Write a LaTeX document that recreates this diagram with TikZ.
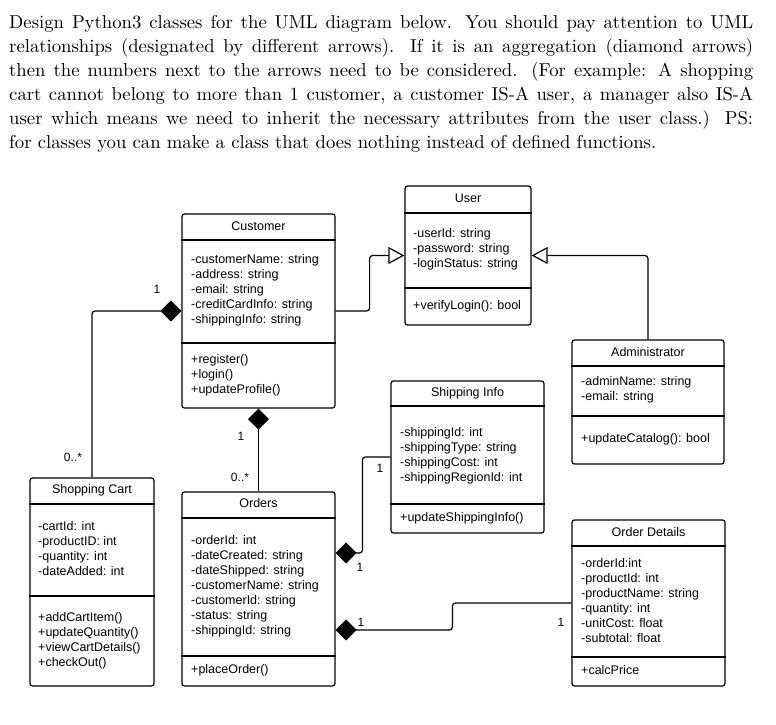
\documentclass[tikz,border=0pt]{standalone}
\usepackage{fontspec}
\newfontfamily\umlfont{Liberation Sans}
\newfontfamily\taskfont{lmroman10-regular.otf}
\usetikzlibrary{arrows.meta}

\tikzset{
    classbox/.style={draw, line width=1.2pt, rounded corners=2.5pt, inner sep=0pt},
    divider/.style={line width=1.2pt},
    classname/.style={font=\umlfont\fontsize{12.5}{15}\selectfont, inner sep=0pt, anchor=base},
    members/.style={font=\umlfont\fontsize{12.5}{15}\selectfont, align=left, anchor=base west, inner sep=0pt},
    mult/.style={font=\umlfont\fontsize{12}{14}\selectfont, inner sep=0pt},
    isa/.style={line width=1.2pt, rounded corners=3pt, -{Triangle[open, length=16pt, width=17pt, fill=white]}},
    haspart/.style={line width=1.2pt, rounded corners=3pt, -{Diamond[length=21pt, width=21pt]}}
}

\begin{document}
\begin{tikzpicture}[x=1pt, y=-1pt]
                \useasboundingbox (0, 0) rectangle (776, 725);

                \node[anchor=base west, text width=744pt, align=justify, inner sep=0pt, font=\taskfont\fontsize{18.7}{24}\selectfont] (task) at (9, 29) {\baselineskip=24pt Design Python3 classes for the UML diagram below. You should pay attention to UML\linebreak relationships (designated by different arrows). If it is an aggregation (diamond arrows)\linebreak then the numbers next to the arrows need to be considered. (For example: A shopping\linebreak cart cannot belong to more than 1 customer, a customer IS-A user, a manager also IS-A\linebreak user which means we need to inherit the necessary attributes from the user class.) PS:\linebreak for classes you can make a class that does nothing instead of defined functions.\par};

                \node[classbox, minimum width=126, minimum height=139] (user) at (468, 255.5) {};

                \draw[divider] (user.west |- 0, 213) -- (user.east |- 0, 213);

                \draw[divider] (user.west |- 0, 288) -- (user.east |- 0, 288);

                \node[classname] (user-name) at (468, 202.5) {User};

                \node[members] (user-attr) at (413, 267) {-userId: string\\-password: string\\-loginStatus: string};

                \node[members] (user-ops) at (413, 309) {+verifyLogin(): bool};

                \node[classbox, minimum width=153, minimum height=194] (customer) at (258.5, 311) {};

                \draw[divider] (customer.west |- 0, 240) -- (customer.east |- 0, 240);

                \draw[divider] (customer.west |- 0, 343) -- (customer.east |- 0, 343);

                \node[classname] (customer-name) at (258.5, 230.5) {Customer};

                \node[members] (customer-attr) at (191, 323) {-customerName: string\\-address: string\\-email: string\\-creditCardInfo: string\\-shippingInfo: string};

                \node[members] (customer-ops) at (191, 393) {+register()\\+login()\\+updateProfile()};

                \node[classbox, minimum width=152, minimum height=124] (admin) at (648, 402) {};

                \draw[divider] (admin.west |- 0, 366) -- (admin.east |- 0, 366);

                \draw[divider] (admin.west |- 0, 416) -- (admin.east |- 0, 416);

                \node[classname] (admin-name) at (648, 356.5) {Administrator};

                \node[members] (admin-attr) at (581, 400) {-adminName: string\\-email: string};

                \node[members] (admin-ops) at (581, 442) {+updateCatalog(): bool};

                \node[classbox, minimum width=153, minimum height=152] (shipinfo) at (467.5, 457) {};

                \draw[divider] (shipinfo.west |- 0, 406) -- (shipinfo.east |- 0, 406);

                \draw[divider] (shipinfo.west |- 0, 504) -- (shipinfo.east |- 0, 504);

                \node[classname] (shipinfo-name) at (467.5, 396.5) {Shipping Info};

                \node[members] (shipinfo-attr) at (400, 481) {-shippingId: int\\-shippingType: string\\-shippingCost: int\\-shippingRegionId: int};

                \node[members] (shipinfo-ops) at (400, 521) {+updateShippingInfo()};

                \node[classbox, minimum width=124, minimum height=208] (cart) at (92, 582) {};

                \draw[divider] (cart.west |- 0, 504) -- (cart.east |- 0, 504);

                \draw[divider] (cart.west |- 0, 596) -- (cart.east |- 0, 596);

                \node[classname] (cart-name) at (92, 493.5) {Shopping Cart};

                \node[members] (cart-attr) at (38, 575) {-cartId: int\\-productID: int\\-quantity: int\\-dateAdded: int};

                \node[members] (cart-ops) at (38, 666) {+addCartItem()\\+updateQuantity()\\+viewCartDetails()\\+checkOut()};

                \node[classbox, minimum width=153, minimum height=194] (orders) at (258.5, 589) {};

                \draw[divider] (orders.west |- 0, 518) -- (orders.east |- 0, 518);

                \draw[divider] (orders.west |- 0, 656) -- (orders.east |- 0, 656);

                \node[classname] (orders-name) at (258.5, 507.5) {Orders};

                \node[members] (orders-attr) at (191, 634) {-orderId: int\\-dateCreated: string\\-dateShipped: string\\-customerName: string\\-customerId: string\\-status: string\\-shippingId: string};

                \node[members] (orders-ops) at (191, 673) {+placeOrder()};

                \node[classbox, minimum width=153, minimum height=166] (details) at (648.5, 603) {};

                \draw[divider] (details.west |- 0, 546) -- (details.east |- 0, 546);

                \draw[divider] (details.west |- 0, 657) -- (details.east |- 0, 657);

                \node[classname] (details-name) at (648.5, 536.5) {Order Details};

                \node[members] (details-attr) at (581, 642) {-orderId:int\\-productId: int\\-productName: string\\-quantity: int\\-unitCost: float\\-subtotal: float};

                \node[members] (details-ops) at (581, 674) {+calcPrice};

                \draw[isa] (customer.east) -- ++(34, 0) |- (user.west);

                \draw[isa] (admin.north) |- (user.east);

                \draw[haspart] (cart.north) |- (customer.west);

                \draw[haspart] (orders.north) -- (customer.south);

                \draw[haspart] (shipinfo.west) -- ++(-28, 0) |- ([yshift=36pt]orders.east);

                \draw[haspart] (details.west) -- ++(-119, 0) |- ([yshift=-41pt]orders.east);

                \node[mult] (cart-one) at (157, 289) {1};

                \node[mult] (cart-many) at (73, 457) {0..*};

                \node[mult] (orders-one) at (241, 436) {1};

                \node[mult] (orders-many) at (240, 477) {0..*};

                \node[mult] (shipinfo-one) at (380, 468) {1};

                \node[mult] (shipinfo-orders) at (360, 567) {1};

                \node[mult] (details-orders) at (361, 622) {1};

                \node[mult] (details-one) at (561, 622) {1};
            \end{tikzpicture}
\end{document}
